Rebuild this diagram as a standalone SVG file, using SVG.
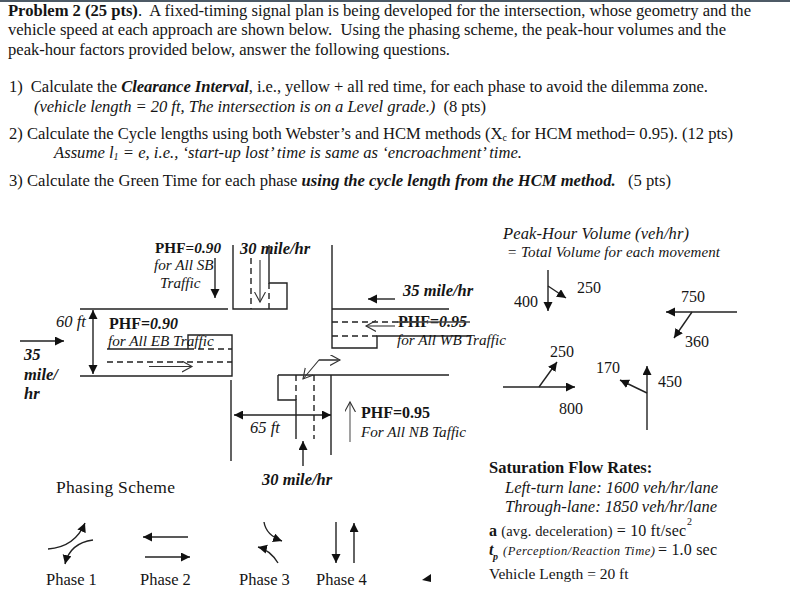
<svg xmlns="http://www.w3.org/2000/svg" width="790" height="613" viewBox="0 0 790 613">
<style>
text{font-family:"Liberation Serif","Times New Roman",serif;fill:#151515;font-size:16.6px;white-space:pre}
.b{font-weight:bold}.i{font-style:italic}.bi{font-weight:bold;font-style:italic}
.s{font-size:15.2px}.m{font-size:16px}.l{font-size:16.5px}.xl{font-size:17.5px}.n{font-size:15px}
.sm{font-size:10px}.c{font-size:12.5px}.a{font-size:14.5px}.v{font-size:15.5px}.f{font-size:16.5px}
.ln{fill:none;stroke:#222;stroke-width:1.4}
.d{fill:none;stroke:#222;stroke-width:1.4;stroke-dasharray:6 4}
.fa{fill:none;stroke:#222;stroke-width:1.4;marker-end:url(#h)}
.fb{fill:none;stroke:#222;stroke-width:1.4;marker-start:url(#hs);marker-end:url(#h)}
.oa{fill:none;stroke:#333;stroke-width:1.1;marker-end:url(#o)}
</style>
<defs>
<marker id="h" markerUnits="userSpaceOnUse" markerWidth="10" markerHeight="10" refX="9" refY="4.5" orient="auto"><path d="M0 0L9 4.5L0 9Z" fill="#111"/></marker>
<marker id="hs" markerUnits="userSpaceOnUse" markerWidth="10" markerHeight="10" refX="0" refY="4.5" orient="auto"><path d="M9 0L0 4.5L9 9Z" fill="#111"/></marker>
<marker id="o" markerUnits="userSpaceOnUse" markerWidth="12" markerHeight="12" refX="10" refY="5.5" orient="auto"><path d="M0 0L10 5.5L0 11" fill="none" stroke="#333" stroke-width="1.1"/></marker>
</defs>
<rect width="790" height="2" fill="#4d5a66"/>

<g id="problem-text">
<text x="8" y="16" textLength="743"><tspan class="b">Problem 2 (25 pts)</tspan>.  A fixed-timing signal plan is being developed for the intersection, whose geometry and the</text>
<text x="8" y="35" textLength="718">vehicle speed at each approach are shown below.  Using the phasing scheme, the peak-hour volumes and the</text>
<text x="8" y="55" textLength="442">peak-hour factors provided below, answer the following questions.</text>
<text x="9" y="92" textLength="699">1)  Calculate the <tspan class="bi">Clearance Interval</tspan>, i.e., yellow + all red time, for each phase to avoid the dilemma zone.</text>
<text x="34" y="112" textLength="452"><tspan class="i">(vehicle length = 20 ft, The intersection is on a Level grade.)</tspan>  (8 pts)</text>
<text x="9" y="139" textLength="724">2) Calculate the Cycle lengths using both Webster’s and HCM methods (X<tspan class="sm" dy="2">c</tspan><tspan dy="-2"> for HCM method= 0.95). (12 pts)</tspan></text>
<text x="54" y="158" class="i" textLength="468">Assume l<tspan class="sm" dy="2">1</tspan><tspan dy="-2"> = e, i.e., ‘start-up lost’ time is same as ‘encroachment’ time.</tspan></text>
<text x="9" y="186" textLength="662">3) Calculate the Green Time for each phase <tspan class="bi">using the cycle length from the HCM method.</tspan>   (5 pts)</text>
</g>

<g id="connectors">
<path class="ln" d="M80 309H228M80 376H232V335H188V349M107 349H188"/>
<path class="d" d="M188 349H232M107 362H232"/>
<path class="oa" d="M149 366.5H192"/>
<path class="fb" d="M93 310V374"/>
<path class="fa" d="M20 341H64"/>
<path class="fa" d="M215 258V298" style="stroke:#555;stroke-width:1.8"/>
<path class="ln" d="M233 245V309H287V283H269V245"/>
<path class="d" d="M251 258V309M269 283V309"/>
<path class="oa" d="M260 260V302"/>
<path class="ln" d="M332 245V348H377V336H470M332 309H449"/>
<path class="d" d="M332 322H418M332 336H377"/>
<path class="oa" d="M395 326H366"/>
<path class="fa" d="M395 299H368"/>
<path class="ln" d="M278 375H449M278 375V400H296V439M331 375V455M231 380V461"/>
<path class="d" d="M296 375V400M314 375V439"/>
<path class="fb" d="M234 415H331"/>
<path class="oa" d="M338 360H319L303 379"/>
<path class="oa" d="M319 360H340"/>
<path class="fa" d="M303 466V441"/>
<path class="oa" d="M350 442V402" style="stroke:#555"/>

<path class="fa" d="M548 270V311"/><path class="fa" d="M548 286L566 298"/>
<path class="fa" d="M737 312H666"/><path class="fa" d="M692 312L674 338"/>
<path class="fa" d="M503 387H575"/><path class="fa" d="M539 387L557 362"/>
<path class="fa" d="M647 430V366"/><path class="fa" d="M647 393L620 380"/>

<path class="fa" d="M48 549Q75 547 85 523"/><path class="fa" d="M93 540Q70 543 65 564"/>
<path class="fa" d="M188 537H143"/><path class="fa" d="M145 557H190"/>
<path class="fa" d="M264 522Q266 535 282 541"/><path class="fa" d="M278 563Q270 550 258 547"/>
<path class="fa" d="M336 522V563"/><path class="fa" d="M354 563V523"/>
<polygon points="422,580 431,574 431,582" fill="#111"/>
</g>

<g id="intersection-labels">
<text x="155" y="253" class="b s" textLength="66">PHF=<tspan class="bi">0.90</tspan></text>
<text x="154" y="270" class="i s">for All SB</text>
<text x="160" y="288" class="i s">Traffic</text>
<text x="240" y="254" class="bi l">30 mile/hr</text>
<text x="56" y="327" class="i f">60 ft</text>
<text x="109" y="329" class="b m">PHF=<tspan class="bi">0.90</tspan></text>
<text x="108" y="346" class="i s">for All EB Traffic</text>
<text x="24" y="360" class="bi l">35</text>
<text x="24" y="380" class="bi l">mile/</text>
<text x="24" y="399" class="bi l">hr</text>
<text x="403" y="296" class="bi l">35 mile/hr</text>
<text x="398" y="327" class="b m">PHF=<tspan class="bi">0.95</tspan></text>
<path class="ln" d="M397 322H470" style="stroke:#444"/>
<text x="397" y="345" class="i s">for All WB Traffic</text>
<text x="250" y="433" class="i f">65 ft</text>
<text x="361" y="418" class="b m">PHF=0.95</text>
<text x="361" y="437" class="i s">For All NB Taffic</text>
<text x="262" y="485" class="bi l">30 mile/hr</text>
</g>

<g id="volumes">
<text x="503" y="239" class="i l" textLength="186">Peak-Hour Volume (veh/hr)</text>
<text x="507" y="257" class="i n" textLength="213">= Total Volume for each movement</text>
<text x="577" y="293" class="m">250</text>
<text x="514" y="307" class="m">400</text>
<text x="681" y="302" class="m">750</text>
<text x="685" y="347" class="m">360</text>
<text x="550" y="357" class="m">250</text>
<text x="559" y="414" class="m">800</text>
<text x="596" y="373" class="m">170</text>
<text x="658" y="387" class="m">450</text>
</g>

<g id="phasing">
<text x="56" y="493" class="xl" textLength="119">Phasing Scheme</text>
<text x="46" y="585" class="l">Phase 1</text>
<text x="140" y="585" class="l">Phase 2</text>
<text x="239" y="585" class="l">Phase 3</text>
<text x="316" y="585" class="l">Phase 4</text>
</g>

<g id="saturation">
<text x="489" y="473" class="b l">Saturation Flow Rates:</text>
<text x="505" y="493" class="i l" textLength="213">Left-turn lane: 1600 veh/hr/lane</text>
<text x="505" y="512" class="i l" textLength="212">Through-lane: 1850 veh/hr/lane</text>
<text x="489" y="536" class="m" textLength="197"><tspan class="b">a</tspan> <tspan class="a">(avg. deceleration)</tspan> = 10 ft/sec</text>
<text x="687" y="525" class="sm">2</text>
<text x="489" y="555" class="bi m">t</text>
<text x="493" y="560" class="bi sm">p</text>
<text x="503" y="555" class="i c" textLength="152">(Perception/Reaction Time)</text>
<text x="658" y="555" class="m" textLength="59">= 1.0 sec</text>
<text x="489" y="579" class="v">Vehicle Length = 20 ft</text>
</g>
</svg>
